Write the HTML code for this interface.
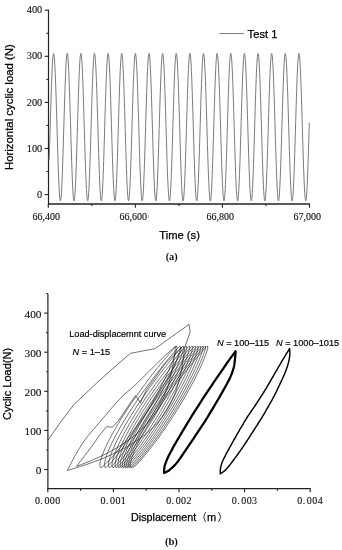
<!DOCTYPE html>
<html><head><meta charset="utf-8"><title>Cyclic load figure</title>
<style>html,body{margin:0;padding:0;background:#fff;}svg{display:block;}</style></head>
<body><svg width="342" height="550" viewBox="0 0 342 550">
<rect width="342" height="550" fill="#fff"/>
<line x1="48.5" y1="9.7" x2="48.5" y2="204.6" stroke="#222" stroke-width="1.2"/>
<line x1="48" y1="203.9" x2="310.05" y2="203.9" stroke="#222" stroke-width="1.5"/>
<line x1="44.6" y1="194.6" x2="48.5" y2="194.6" stroke="#222" stroke-width="1.1"/>
<text x="42.2" y="197.7" text-anchor="end" font-family="'Liberation Serif', 'Times New Roman', serif" font-size="10.3" fill="#111" stroke="#111" stroke-width="0.12">0</text>
<line x1="44.6" y1="148.5" x2="48.5" y2="148.5" stroke="#222" stroke-width="1.1"/>
<text x="42.2" y="151.6" text-anchor="end" font-family="'Liberation Serif', 'Times New Roman', serif" font-size="10.3" fill="#111" stroke="#111" stroke-width="0.12">100</text>
<line x1="44.6" y1="102.4" x2="48.5" y2="102.4" stroke="#222" stroke-width="1.1"/>
<text x="42.2" y="105.5" text-anchor="end" font-family="'Liberation Serif', 'Times New Roman', serif" font-size="10.3" fill="#111" stroke="#111" stroke-width="0.12">200</text>
<line x1="44.6" y1="56.3" x2="48.5" y2="56.3" stroke="#222" stroke-width="1.1"/>
<text x="42.2" y="59.4" text-anchor="end" font-family="'Liberation Serif', 'Times New Roman', serif" font-size="10.3" fill="#111" stroke="#111" stroke-width="0.12">300</text>
<line x1="44.6" y1="10.2" x2="48.5" y2="10.2" stroke="#222" stroke-width="1.1"/>
<text x="42.2" y="13.3" text-anchor="end" font-family="'Liberation Serif', 'Times New Roman', serif" font-size="10.3" fill="#111" stroke="#111" stroke-width="0.12">400</text>
<line x1="46.4" y1="171.55" x2="48.5" y2="171.55" stroke="#222" stroke-width="1.1"/>
<line x1="46.4" y1="125.45" x2="48.5" y2="125.45" stroke="#222" stroke-width="1.1"/>
<line x1="46.4" y1="79.35" x2="48.5" y2="79.35" stroke="#222" stroke-width="1.1"/>
<line x1="46.4" y1="33.25" x2="48.5" y2="33.25" stroke="#222" stroke-width="1.1"/>
<line x1="48.3" y1="203.9" x2="48.3" y2="207.8" stroke="#222" stroke-width="1.1"/>
<text x="46.2" y="220.2" text-anchor="middle" font-family="'Liberation Serif', 'Times New Roman', serif" font-size="10" fill="#111" stroke="#111" stroke-width="0.12">66,400</text>
<line x1="135.35" y1="203.9" x2="135.35" y2="207.8" stroke="#222" stroke-width="1.1"/>
<text x="133.25" y="220.2" text-anchor="middle" font-family="'Liberation Serif', 'Times New Roman', serif" font-size="10" fill="#111" stroke="#111" stroke-width="0.12">66,600</text>
<line x1="222.4" y1="203.9" x2="222.4" y2="207.8" stroke="#222" stroke-width="1.1"/>
<text x="220.3" y="220.2" text-anchor="middle" font-family="'Liberation Serif', 'Times New Roman', serif" font-size="10" fill="#111" stroke="#111" stroke-width="0.12">66,800</text>
<line x1="309.45" y1="203.9" x2="309.45" y2="207.8" stroke="#222" stroke-width="1.1"/>
<text x="307.35" y="220.2" text-anchor="middle" font-family="'Liberation Serif', 'Times New Roman', serif" font-size="10" fill="#111" stroke="#111" stroke-width="0.12">67,000</text>
<line x1="91.83" y1="203.9" x2="91.83" y2="205.9" stroke="#222" stroke-width="1.1"/>
<line x1="178.88" y1="203.9" x2="178.88" y2="205.9" stroke="#222" stroke-width="1.1"/>
<line x1="265.93" y1="203.9" x2="265.93" y2="205.9" stroke="#222" stroke-width="1.1"/>
<line x1="148.3" y1="214.8" x2="148.3" y2="217.8" stroke="#777" stroke-width="0.6"/>
<path d="M49.2 159.73 L49.45 151.9 L49.7 143.75 L49.95 135.38 L50.2 126.9 L50.45 118.42 L50.7 110.05 L50.95 101.92 L51.2 94.12 L51.45 86.75 L51.7 79.93 L51.95 73.72 L52.2 68.23 L52.45 63.52 L52.7 59.66 L52.95 56.69 L53.2 54.65 L53.45 53.58 L53.7 53.48 L53.95 54.36 L54.2 56.2 L54.45 58.99 L54.7 62.68 L54.95 67.23 L55.2 72.57 L55.45 78.63 L55.7 85.34 L55.95 92.6 L56.2 100.33 L56.45 108.4 L56.7 116.73 L56.95 125.2 L57.2 133.69 L57.45 142.09 L57.7 150.3 L57.95 158.19 L58.2 165.68 L58.45 172.66 L58.7 179.03 L58.95 184.71 L59.2 189.63 L59.45 193.72 L59.7 196.93 L59.95 199.21 L60.2 200.54 L60.45 200.89 L60.7 200.26 L60.95 198.67 L61.2 196.12 L61.45 192.66 L61.7 188.33 L61.95 183.19 L62.2 177.31 L62.45 170.76 L62.7 163.63 L62.95 156.02 L63.2 148.02 L63.45 139.75 L63.7 131.31 L63.95 122.82 L64.2 114.38 L64.45 106.11 L64.7 98.12 L64.95 90.52 L65.2 83.4 L65.45 76.87 L65.7 71 L65.95 65.87 L66.2 61.56 L66.45 58.12 L66.7 55.59 L66.95 54.01 L67.2 53.41 L67.45 53.78 L67.7 55.12 L67.95 57.43 L68.2 60.65 L68.45 64.76 L68.7 69.69 L68.95 75.39 L69.2 81.78 L69.45 88.76 L69.7 96.26 L69.95 104.17 L70.2 112.38 L70.45 120.78 L70.7 129.27 L70.95 137.74 L71.2 146.06 L71.45 154.13 L71.7 161.85 L71.95 169.1 L72.2 175.8 L72.45 181.85 L72.7 187.17 L72.95 191.7 L73.2 195.38 L73.45 198.14 L73.7 199.97 L73.95 200.83 L74.2 200.71 L74.45 199.62 L74.7 197.56 L74.95 194.57 L75.2 190.69 L75.45 185.96 L75.7 180.46 L75.95 174.24 L76.2 167.41 L76.45 160.03 L76.7 152.22 L76.95 144.08 L77.2 135.71 L77.45 127.23 L77.7 118.75 L77.95 110.38 L78.2 102.24 L78.45 94.42 L78.7 87.04 L78.95 80.19 L79.2 73.96 L79.45 68.44 L79.7 63.7 L79.95 59.79 L80.2 56.79 L80.45 54.71 L80.7 53.6 L80.95 53.46 L81.2 54.3 L81.45 56.11 L81.7 58.86 L81.95 62.52 L82.2 67.03 L82.45 72.34 L82.7 78.38 L82.95 85.06 L83.2 92.3 L83.45 100.01 L83.7 108.08 L83.95 116.39 L84.2 124.86 L84.45 133.35 L84.7 141.76 L84.95 149.97 L85.2 157.89 L85.45 165.39 L85.7 172.39 L85.95 178.79 L86.2 184.5 L86.45 189.45 L86.7 193.58 L86.95 196.82 L87.2 199.14 L87.45 200.5 L87.7 200.9 L87.95 200.31 L88.2 198.75 L88.45 196.24 L88.7 192.82 L88.95 188.52 L89.2 183.41 L89.45 177.56 L89.7 171.03 L89.95 163.93 L90.2 156.33 L90.45 148.35 L90.7 140.09 L90.95 131.65 L91.2 123.16 L91.45 114.72 L91.7 106.44 L91.95 98.44 L92.2 90.82 L92.45 83.68 L92.7 77.11 L92.95 71.22 L93.2 66.06 L93.45 61.71 L93.7 58.24 L93.95 55.67 L94.2 54.06 L94.45 53.41 L94.7 53.75 L94.95 55.05 L95.2 57.32 L95.45 60.5 L95.7 64.58 L95.95 69.48 L96.2 75.15 L96.45 81.51 L96.7 88.47 L96.95 95.95 L97.2 103.84 L97.45 112.04 L97.7 120.44 L97.95 128.93 L98.2 137.4 L98.45 145.73 L98.7 153.81 L98.95 161.54 L99.2 168.82 L99.45 175.54 L99.7 181.62 L99.95 186.97 L100.2 191.54 L100.45 195.25 L100.7 198.05 L100.95 199.91 L101.2 200.81 L101.45 200.74 L101.7 199.68 L101.95 197.66 L102.2 194.71 L102.45 190.86 L102.7 186.17 L102.95 180.69 L103.2 174.5 L103.45 167.69 L103.7 160.34 L103.95 152.54 L104.2 144.41 L104.45 136.05 L104.7 127.57 L104.95 119.09 L105.2 110.72 L105.45 102.56 L105.7 94.73 L105.95 87.32 L106.2 80.45 L106.45 74.2 L106.7 68.64 L106.95 63.87 L107.2 59.93 L107.45 56.89 L107.7 54.78 L107.95 53.63 L108.2 53.45 L108.45 54.25 L108.7 56.02 L108.95 58.73 L109.2 62.35 L109.45 66.83 L109.7 72.11 L109.95 78.12 L110.2 84.78 L110.45 92.01 L110.7 99.69 L110.95 107.75 L111.2 116.06 L111.45 124.52 L111.7 133.01 L111.95 141.42 L112.2 149.65 L112.45 157.58 L112.7 165.1 L112.95 172.12 L113.2 178.54 L113.45 184.28 L113.7 189.27 L113.95 193.43 L114.2 196.71 L114.45 199.06 L114.7 200.47 L114.95 200.9 L115.2 200.35 L115.45 198.83 L115.7 196.36 L115.95 192.97 L116.2 188.71 L116.45 183.63 L116.7 177.81 L116.95 171.31 L117.2 164.22 L117.45 156.64 L117.7 148.68 L117.95 140.42 L118.2 131.99 L118.45 123.5 L118.7 115.05 L118.95 106.77 L119.2 98.75 L119.45 91.11 L119.7 83.95 L119.95 77.37 L120.2 71.44 L120.45 66.25 L120.7 61.87 L120.95 58.36 L121.2 55.76 L121.45 54.1 L121.7 53.42 L121.95 53.71 L122.2 54.98 L122.45 57.21 L122.7 60.36 L122.95 64.4 L123.2 69.27 L123.45 74.91 L123.7 81.24 L123.95 88.19 L124.2 95.64 L124.45 103.52 L124.7 111.71 L124.95 120.11 L125.2 128.59 L125.45 137.06 L125.7 145.4 L125.95 153.5 L126.2 161.24 L126.45 168.54 L126.7 175.28 L126.95 181.39 L127.2 186.78 L127.45 191.37 L127.7 195.11 L127.95 197.96 L128.2 199.86 L128.45 200.8 L128.7 200.76 L128.95 199.74 L129.2 197.76 L129.45 194.85 L129.7 191.03 L129.95 186.37 L130.2 180.93 L130.45 174.77 L130.7 167.97 L130.95 160.64 L131.2 152.86 L131.45 144.74 L131.7 136.39 L131.95 127.91 L132.2 119.43 L132.45 111.05 L132.7 102.88 L132.95 95.03 L133.2 87.61 L133.45 80.71 L133.7 74.43 L133.95 68.85 L134.2 64.04 L134.45 60.07 L134.7 56.99 L134.95 54.84 L135.2 53.65 L135.45 53.44 L135.7 54.2 L135.95 55.93 L136.2 58.61 L136.45 62.19 L136.7 66.64 L136.95 71.89 L137.2 77.87 L137.45 84.51 L137.7 91.71 L137.95 99.38 L138.2 107.42 L138.45 115.72 L138.7 124.18 L138.95 132.67 L139.2 141.09 L139.45 149.32 L139.7 157.27 L139.95 164.81 L140.2 171.85 L140.45 178.3 L140.7 184.07 L140.95 189.08 L141.2 193.28 L141.45 196.59 L141.7 198.99 L141.95 200.43 L142.2 200.9 L142.45 200.39 L142.7 198.91 L142.95 196.48 L143.2 193.13 L143.45 188.9 L143.7 183.85 L143.95 178.05 L144.2 171.58 L144.45 164.51 L144.7 156.96 L144.95 149 L145.2 140.76 L145.45 132.33 L145.7 123.84 L145.95 115.39 L146.2 107.09 L146.45 99.06 L146.7 91.41 L146.95 84.23 L147.2 77.62 L147.45 71.66 L147.7 66.44 L147.95 62.03 L148.2 58.48 L148.45 55.84 L148.7 54.15 L148.95 53.43 L149.2 53.68 L149.45 54.91 L149.7 57.1 L149.95 60.22 L150.2 64.22 L150.45 69.06 L150.7 74.67 L150.95 80.98 L151.2 87.9 L151.45 95.34 L151.7 103.2 L151.95 111.38 L152.2 119.77 L152.45 128.25 L152.7 136.73 L152.95 145.07 L153.2 153.18 L153.45 160.94 L153.7 168.26 L153.95 175.02 L154.2 181.16 L154.45 186.57 L154.7 191.2 L154.95 194.98 L155.2 197.86 L155.45 199.8 L155.7 200.78 L155.95 200.78 L156.2 199.8 L156.45 197.86 L156.7 194.98 L156.95 191.2 L157.2 186.57 L157.45 181.16 L157.7 175.02 L157.95 168.26 L158.2 160.94 L158.45 153.18 L158.7 145.07 L158.95 136.73 L159.2 128.25 L159.45 119.77 L159.7 111.38 L159.95 103.2 L160.2 95.34 L160.45 87.9 L160.7 80.98 L160.95 74.67 L161.2 69.06 L161.45 64.22 L161.7 60.22 L161.95 57.1 L162.2 54.91 L162.45 53.68 L162.7 53.43 L162.95 54.15 L163.2 55.84 L163.45 58.48 L163.7 62.03 L163.95 66.44 L164.2 71.66 L164.45 77.62 L164.7 84.23 L164.95 91.41 L165.2 99.06 L165.45 107.09 L165.7 115.39 L165.95 123.84 L166.2 132.33 L166.45 140.76 L166.7 149 L166.95 156.96 L167.2 164.51 L167.45 171.58 L167.7 178.05 L167.95 183.85 L168.2 188.9 L168.45 193.13 L168.7 196.48 L168.95 198.91 L169.2 200.39 L169.45 200.9 L169.7 200.43 L169.95 198.99 L170.2 196.59 L170.45 193.28 L170.7 189.08 L170.95 184.07 L171.2 178.3 L171.45 171.85 L171.7 164.81 L171.95 157.27 L172.2 149.32 L172.45 141.09 L172.7 132.67 L172.95 124.18 L173.2 115.72 L173.45 107.42 L173.7 99.38 L173.95 91.71 L174.2 84.51 L174.45 77.87 L174.7 71.89 L174.95 66.64 L175.2 62.19 L175.45 58.61 L175.7 55.93 L175.95 54.2 L176.2 53.44 L176.45 53.65 L176.7 54.84 L176.95 56.99 L177.2 60.07 L177.45 64.04 L177.7 68.85 L177.95 74.43 L178.2 80.71 L178.45 87.61 L178.7 95.03 L178.95 102.88 L179.2 111.05 L179.45 119.43 L179.7 127.91 L179.95 136.39 L180.2 144.74 L180.45 152.86 L180.7 160.64 L180.95 167.97 L181.2 174.77 L181.45 180.93 L181.7 186.37 L181.95 191.03 L182.2 194.85 L182.45 197.76 L182.7 199.74 L182.95 200.76 L183.2 200.8 L183.45 199.86 L183.7 197.96 L183.95 195.11 L184.2 191.37 L184.45 186.78 L184.7 181.39 L184.95 175.28 L185.2 168.54 L185.45 161.24 L185.7 153.5 L185.95 145.4 L186.2 137.06 L186.45 128.59 L186.7 120.11 L186.95 111.71 L187.2 103.52 L187.45 95.64 L187.7 88.19 L187.95 81.24 L188.2 74.91 L188.45 69.27 L188.7 64.4 L188.95 60.36 L189.2 57.21 L189.45 54.98 L189.7 53.71 L189.95 53.42 L190.2 54.1 L190.45 55.76 L190.7 58.36 L190.95 61.87 L191.2 66.25 L191.45 71.44 L191.7 77.37 L191.95 83.95 L192.2 91.11 L192.45 98.75 L192.7 106.77 L192.95 115.05 L193.2 123.5 L193.45 131.99 L193.7 140.42 L193.95 148.68 L194.2 156.64 L194.45 164.22 L194.7 171.31 L194.95 177.81 L195.2 183.63 L195.45 188.71 L195.7 192.97 L195.95 196.36 L196.2 198.83 L196.45 200.35 L196.7 200.9 L196.95 200.47 L197.2 199.06 L197.45 196.71 L197.7 193.43 L197.95 189.27 L198.2 184.28 L198.45 178.54 L198.7 172.12 L198.95 165.1 L199.2 157.58 L199.45 149.65 L199.7 141.42 L199.95 133.01 L200.2 124.52 L200.45 116.06 L200.7 107.75 L200.95 99.69 L201.2 92.01 L201.45 84.78 L201.7 78.12 L201.95 72.11 L202.2 66.83 L202.45 62.35 L202.7 58.73 L202.95 56.02 L203.2 54.25 L203.45 53.45 L203.7 53.63 L203.95 54.78 L204.2 56.89 L204.45 59.93 L204.7 63.87 L204.95 68.64 L205.2 74.2 L205.45 80.45 L205.7 87.32 L205.95 94.73 L206.2 102.56 L206.45 110.72 L206.7 119.09 L206.95 127.57 L207.2 136.05 L207.45 144.41 L207.7 152.54 L207.95 160.34 L208.2 167.69 L208.45 174.5 L208.7 180.69 L208.95 186.17 L209.2 190.86 L209.45 194.71 L209.7 197.66 L209.95 199.68 L210.2 200.74 L210.45 200.81 L210.7 199.91 L210.95 198.05 L211.2 195.25 L211.45 191.54 L211.7 186.97 L211.95 181.62 L212.2 175.54 L212.45 168.82 L212.7 161.54 L212.95 153.81 L213.2 145.73 L213.45 137.4 L213.7 128.93 L213.95 120.44 L214.2 112.04 L214.45 103.84 L214.7 95.95 L214.95 88.47 L215.2 81.51 L215.45 75.15 L215.7 69.48 L215.95 64.58 L216.2 60.5 L216.45 57.32 L216.7 55.05 L216.95 53.75 L217.2 53.41 L217.45 54.06 L217.7 55.67 L217.95 58.24 L218.2 61.71 L218.45 66.06 L218.7 71.22 L218.95 77.11 L219.2 83.68 L219.45 90.82 L219.7 98.44 L219.95 106.44 L220.2 114.72 L220.45 123.16 L220.7 131.65 L220.95 140.09 L221.2 148.35 L221.45 156.33 L221.7 163.93 L221.95 171.03 L222.2 177.56 L222.45 183.41 L222.7 188.52 L222.95 192.82 L223.2 196.24 L223.45 198.75 L223.7 200.31 L223.95 200.9 L224.2 200.5 L224.45 199.14 L224.7 196.82 L224.95 193.58 L225.2 189.45 L225.45 184.5 L225.7 178.79 L225.95 172.39 L226.2 165.39 L226.45 157.89 L226.7 149.97 L226.95 141.76 L227.2 133.35 L227.45 124.86 L227.7 116.39 L227.95 108.08 L228.2 100.01 L228.45 92.3 L228.7 85.06 L228.95 78.38 L229.2 72.34 L229.45 67.03 L229.7 62.52 L229.95 58.86 L230.2 56.11 L230.45 54.3 L230.7 53.46 L230.95 53.6 L231.2 54.71 L231.45 56.79 L231.7 59.79 L231.95 63.7 L232.2 68.44 L232.45 73.96 L232.7 80.19 L232.95 87.04 L233.2 94.42 L233.45 102.24 L233.7 110.38 L233.95 118.75 L234.2 127.23 L234.45 135.71 L234.7 144.08 L234.95 152.22 L235.2 160.03 L235.45 167.41 L235.7 174.24 L235.95 180.46 L236.2 185.96 L236.45 190.69 L236.7 194.57 L236.95 197.56 L237.2 199.62 L237.45 200.71 L237.7 200.83 L237.95 199.97 L238.2 198.14 L238.45 195.38 L238.7 191.7 L238.95 187.17 L239.2 181.85 L239.45 175.8 L239.7 169.1 L239.95 161.85 L240.2 154.13 L240.45 146.06 L240.7 137.74 L240.95 129.27 L241.2 120.78 L241.45 112.38 L241.7 104.17 L241.95 96.26 L242.2 88.76 L242.45 81.78 L242.7 75.39 L242.95 69.69 L243.2 64.76 L243.45 60.65 L243.7 57.43 L243.95 55.12 L244.2 53.78 L244.45 53.41 L244.7 54.01 L244.95 55.59 L245.2 58.12 L245.45 61.56 L245.7 65.87 L245.95 71 L246.2 76.87 L246.45 83.4 L246.7 90.52 L246.95 98.12 L247.2 106.11 L247.45 114.38 L247.7 122.82 L247.95 131.31 L248.2 139.75 L248.45 148.02 L248.7 156.02 L248.95 163.63 L249.2 170.76 L249.45 177.31 L249.7 183.19 L249.95 188.33 L250.2 192.66 L250.45 196.12 L250.7 198.67 L250.95 200.26 L251.2 200.89 L251.45 200.54 L251.7 199.21 L251.95 196.93 L252.2 193.72 L252.45 189.63 L252.7 184.71 L252.95 179.03 L253.2 172.66 L253.45 165.68 L253.7 158.19 L253.95 150.3 L254.2 142.09 L254.45 133.69 L254.7 125.2 L254.95 116.73 L255.2 108.4 L255.45 100.33 L255.7 92.6 L255.95 85.34 L256.2 78.63 L256.45 72.57 L256.7 67.23 L256.95 62.68 L257.2 58.99 L257.45 56.2 L257.7 54.36 L257.95 53.48 L258.2 53.58 L258.45 54.65 L258.7 56.69 L258.95 59.66 L259.2 63.52 L259.45 68.23 L259.7 73.72 L259.95 79.93 L260.2 86.75 L260.45 94.12 L260.7 101.92 L260.95 110.05 L261.2 118.42 L261.45 126.9 L261.7 135.38 L261.95 143.75 L262.2 151.9 L262.45 159.73 L262.7 167.12 L262.95 173.98 L263.2 180.22 L263.45 185.76 L263.7 190.52 L263.95 194.44 L264.2 197.46 L264.45 199.55 L264.7 200.69 L264.95 200.84 L265.2 200.02 L265.45 198.23 L265.7 195.5 L265.95 191.87 L266.2 187.37 L266.45 182.07 L266.7 176.05 L266.95 169.38 L267.2 162.14 L267.45 154.45 L267.7 146.39 L267.95 138.07 L268.2 129.61 L268.45 121.12 L268.7 112.71 L268.95 104.49 L269.2 96.57 L269.45 89.06 L269.7 82.05 L269.95 75.64 L270.2 69.91 L270.45 64.94 L270.7 60.8 L270.95 57.54 L271.2 55.2 L271.45 53.81 L271.7 53.4 L271.95 53.97 L272.2 55.51 L272.45 58 L272.7 61.4 L272.95 65.68 L273.2 70.78 L273.45 76.62 L273.7 83.13 L273.95 90.23 L274.2 97.81 L274.45 105.79 L274.7 114.05 L274.95 122.48 L275.2 130.97 L275.45 139.42 L275.7 147.7 L275.95 155.71 L276.2 163.34 L276.45 170.49 L276.7 177.06 L276.95 182.97 L277.2 188.14 L277.45 192.51 L277.7 196 L277.95 198.58 L278.2 200.22 L278.45 200.88 L278.7 200.57 L278.95 199.28 L279.2 197.04 L279.45 193.87 L279.7 189.81 L279.95 184.92 L280.2 179.27 L280.45 172.92 L280.7 165.97 L280.95 158.5 L281.2 150.62 L281.45 142.42 L281.7 134.02 L281.95 125.54 L282.2 117.07 L282.45 108.73 L282.7 100.64 L282.95 92.91 L283.2 85.62 L283.45 78.89 L283.7 72.8 L283.95 67.43 L284.2 62.85 L284.45 59.12 L284.7 56.3 L284.95 54.41 L285.2 53.49 L285.45 53.55 L285.7 54.59 L285.95 56.59 L286.2 59.52 L286.45 63.35 L286.7 68.03 L286.95 73.49 L287.2 79.66 L287.45 86.47 L287.7 93.81 L287.95 101.6 L288.2 109.72 L288.45 118.08 L288.7 126.56 L288.95 135.04 L289.2 143.42 L289.45 151.58 L289.7 159.42 L289.95 166.83 L290.2 173.72 L290.45 179.99 L290.7 185.55 L290.95 190.34 L291.2 194.3 L291.45 197.36 L291.7 199.49 L291.95 200.66 L292.2 200.86 L292.45 200.07 L292.7 198.32 L292.95 195.63 L293.2 192.03 L293.45 187.57 L293.7 182.3 L293.95 176.3 L294.2 169.66 L294.45 162.44 L294.7 154.76 L294.95 146.72 L295.2 138.41 L295.45 129.95 L295.7 121.46 L295.95 113.04 L296.2 104.81 L296.45 96.88 L296.7 89.35 L296.95 82.32 L297.2 75.88 L297.45 70.12 L297.7 65.12 L297.95 60.95 L298.2 57.65 L298.45 55.27 L298.7 53.85 L298.95 53.4 L299.2 53.93 L299.45 55.43 L299.7 57.88 L299.95 61.25 L300.2 65.49 L300.45 70.56 L300.7 76.37 L300.95 82.86 L301.2 89.93 L301.45 97.5 L301.7 105.46 L301.95 113.71 L302.2 122.14 L302.45 130.63 L302.7 139.08 L302.95 147.37 L303.2 155.39 L303.45 163.04 L303.7 170.21 L303.95 176.81 L304.2 182.75 L304.45 187.95 L304.7 192.35 L304.95 195.88 L305.2 198.5 L305.45 200.17 L305.7 200.88 L305.95 200.6 L306.2 199.35 L306.45 197.15 L306.7 194.01 L306.95 189.99 L307.2 185.13 L307.45 179.51 L307.7 173.19 L307.95 166.26 L308.2 158.81 L308.45 150.94 L308.7 142.75 L308.95 134.36 L309.2 125.88 L309.3 122.48" fill="none" stroke="#7a7a7a" stroke-width="1.0"/>
<line x1="219.4" y1="33.6" x2="243.9" y2="33.6" stroke="#7a7a7a" stroke-width="1"/>
<text x="247.6" y="38" font-family="'Liberation Sans', Arial, sans-serif" font-size="11.2" fill="#000" stroke="#000" stroke-width="0.25">Test 1</text>
<text transform="translate(13.1 107.1) rotate(-90)" text-anchor="middle" font-family="'Liberation Sans', Arial, sans-serif" font-size="11.4" fill="#000" stroke="#000" stroke-width="0.25">Horizontal cyclic load (N)</text>
<text x="179.6" y="238.8" text-anchor="middle" font-family="'Liberation Sans', Arial, sans-serif" font-size="11.2" fill="#000" stroke="#000" stroke-width="0.25">Time (s)</text>
<text x="171.6" y="259.6" text-anchor="middle" font-family="'Liberation Serif', 'Times New Roman', serif" font-size="10.2" font-weight="bold" fill="#111">(a)</text>
<line x1="47.9" y1="293.4" x2="47.9" y2="489.2" stroke="#222" stroke-width="1.2"/>
<line x1="47.4" y1="488.6" x2="310.7" y2="488.6" stroke="#222" stroke-width="1.3"/>
<line x1="44.2" y1="469.5" x2="47.9" y2="469.5" stroke="#222" stroke-width="1.1"/>
<text x="41.5" y="474.2" text-anchor="end" font-family="'Liberation Serif', 'Times New Roman', serif" font-size="11.3" fill="#111" stroke="#111" stroke-width="0.12">0</text>
<line x1="44.2" y1="430.4" x2="47.9" y2="430.4" stroke="#222" stroke-width="1.1"/>
<text x="41.5" y="435.1" text-anchor="end" font-family="'Liberation Serif', 'Times New Roman', serif" font-size="11.3" fill="#111" stroke="#111" stroke-width="0.12">100</text>
<line x1="44.2" y1="391.3" x2="47.9" y2="391.3" stroke="#222" stroke-width="1.1"/>
<text x="41.5" y="396" text-anchor="end" font-family="'Liberation Serif', 'Times New Roman', serif" font-size="11.3" fill="#111" stroke="#111" stroke-width="0.12">200</text>
<line x1="44.2" y1="352.2" x2="47.9" y2="352.2" stroke="#222" stroke-width="1.1"/>
<text x="41.5" y="356.9" text-anchor="end" font-family="'Liberation Serif', 'Times New Roman', serif" font-size="11.3" fill="#111" stroke="#111" stroke-width="0.12">300</text>
<line x1="44.2" y1="313.1" x2="47.9" y2="313.1" stroke="#222" stroke-width="1.1"/>
<text x="41.5" y="317.8" text-anchor="end" font-family="'Liberation Serif', 'Times New Roman', serif" font-size="11.3" fill="#111" stroke="#111" stroke-width="0.12">400</text>
<line x1="46.2" y1="449.95" x2="47.9" y2="449.95" stroke="#222" stroke-width="1.1"/>
<line x1="46.2" y1="410.85" x2="47.9" y2="410.85" stroke="#222" stroke-width="1.1"/>
<line x1="46.2" y1="371.75" x2="47.9" y2="371.75" stroke="#222" stroke-width="1.1"/>
<line x1="46.2" y1="332.65" x2="47.9" y2="332.65" stroke="#222" stroke-width="1.1"/>
<line x1="46.2" y1="293.55" x2="47.9" y2="293.55" stroke="#222" stroke-width="1.1"/>
<line x1="47.8" y1="488.6" x2="47.8" y2="492.2" stroke="#222" stroke-width="1.1"/>
<text x="47.8" y="503.5" text-anchor="middle" font-family="'Liberation Serif', 'Times New Roman', serif" font-size="10" letter-spacing="0.4" fill="#111" stroke="#111" stroke-width="0.12">0.<tspan dx="1.2">000</tspan></text>
<line x1="113.4" y1="488.6" x2="113.4" y2="492.2" stroke="#222" stroke-width="1.1"/>
<text x="113.4" y="503.5" text-anchor="middle" font-family="'Liberation Serif', 'Times New Roman', serif" font-size="10" letter-spacing="0.4" fill="#111" stroke="#111" stroke-width="0.12">0.<tspan dx="1.2">001</tspan></text>
<line x1="179" y1="488.6" x2="179" y2="492.2" stroke="#222" stroke-width="1.1"/>
<text x="179" y="503.5" text-anchor="middle" font-family="'Liberation Serif', 'Times New Roman', serif" font-size="10" letter-spacing="0.4" fill="#111" stroke="#111" stroke-width="0.12">0.<tspan dx="1.2">002</tspan></text>
<line x1="244.6" y1="488.6" x2="244.6" y2="492.2" stroke="#222" stroke-width="1.1"/>
<text x="244.6" y="503.5" text-anchor="middle" font-family="'Liberation Serif', 'Times New Roman', serif" font-size="10" letter-spacing="0.4" fill="#111" stroke="#111" stroke-width="0.12">0.<tspan dx="1.2">003</tspan></text>
<line x1="310.2" y1="488.6" x2="310.2" y2="492.2" stroke="#222" stroke-width="1.1"/>
<text x="310.2" y="503.5" text-anchor="middle" font-family="'Liberation Serif', 'Times New Roman', serif" font-size="10" letter-spacing="0.4" fill="#111" stroke="#111" stroke-width="0.12">0.<tspan dx="1.2">004</tspan></text>
<line x1="80.6" y1="488.6" x2="80.6" y2="490.7" stroke="#222" stroke-width="1.1"/>
<line x1="146.2" y1="488.6" x2="146.2" y2="490.7" stroke="#222" stroke-width="1.1"/>
<line x1="211.8" y1="488.6" x2="211.8" y2="490.7" stroke="#222" stroke-width="1.1"/>
<line x1="277.4" y1="488.6" x2="277.4" y2="490.7" stroke="#222" stroke-width="1.1"/>
<text transform="translate(11.3 384) rotate(-90)" text-anchor="middle" font-family="'Liberation Sans', Arial, sans-serif" font-size="11" fill="#000" stroke="#000" stroke-width="0.25">Cyclic Load(N)</text>
<text x="131" y="521" font-family="'Liberation Sans', Arial, sans-serif" font-size="10.75" fill="#000" stroke="#000" stroke-width="0.25">Displacement<tspan font-family="'Noto Sans CJK SC', sans-serif" font-size="10.5" stroke-width="0">（</tspan><tspan dx="0.3" font-size="11">m</tspan><tspan dx="1.5" font-family="'Noto Sans CJK SC', sans-serif" font-size="10.5" stroke-width="0">）</tspan></text>
<text x="171.4" y="544.6" text-anchor="middle" font-family="'Liberation Serif', 'Times New Roman', serif" font-size="10.6" font-weight="bold" fill="#111">(b)</text>
<text x="69.3" y="336.7" font-family="'Liberation Sans', Arial, sans-serif" font-size="9.15" fill="#000" stroke="#000" stroke-width="0.18">Load-displacemnt curve</text>
<text x="72.6" y="354.6" font-family="'Liberation Sans', Arial, sans-serif" font-size="9.2" fill="#000" stroke="#000" stroke-width="0.18"><tspan font-style="italic">N</tspan> = 1–15</text>
<text x="217" y="345.8" font-family="'Liberation Sans', Arial, sans-serif" font-size="9.2" fill="#000" stroke="#000" stroke-width="0.18"><tspan font-style="italic">N</tspan> = 100–115</text>
<text x="276" y="345.7" font-family="'Liberation Sans', Arial, sans-serif" font-size="9.2" fill="#000" stroke="#000" stroke-width="0.18"><tspan font-style="italic">N</tspan> = 1000–1015</text>
<path d="M48 440.2 L61 421.5 L74 404.5 L99 380.8 L120 362.3 L130.5 353.3 L155.1 348.6 L189 324.4 L190.2 332 L184.6 347.7" fill="none" stroke="#111" stroke-width="0.6" stroke-linejoin="round"/>
<path d="M100.9 467.8 L99.83 465.78 L99.94 463.75 L100.31 461.73 L100.83 459.71 L101.44 457.68 L102.14 455.66 L102.9 453.64 L103.71 451.61 L104.57 449.59 L105.47 447.57 L106.4 445.54 L107.37 443.52 L108.37 441.5 L109.4 439.47 L110.45 437.45 L111.53 435.43 L112.64 433.4 L113.76 431.38 L114.91 429.36 L116.08 427.33 L117.27 425.31 L118.47 423.29 L119.7 421.26 L120.94 419.24 L122.2 417.22 L123.48 415.19 L124.77 413.17 L126.08 411.15 L127.41 409.12 L128.75 407.1 L130.1 405.08 L131.47 403.05 L132.86 401.03 L134.26 399.01 L135.68 396.98 L137.11 394.96 L138.55 392.94 L140.01 390.91 L141.48 388.89 L142.96 386.87 L144.46 384.84 L145.97 382.82 L147.5 380.8 L149.04 378.77 L150.59 376.75 L152.16 374.73 L153.74 372.7 L155.34 370.68 L156.95 368.66 L158.58 366.63 L160.22 364.61 L161.88 362.59 L163.55 360.56 L165.25 358.54 L166.96 356.52 L168.69 354.49 L170.45 352.47 L172.24 350.45 L174.07 348.42 L176 346.4 L177 346.4 L176.87 348.42 L176.38 350.45 L175.79 352.47 L175.13 354.49 L174.42 356.52 L173.67 358.54 L172.89 360.56 L172.09 362.59 L171.25 364.61 L170.39 366.63 L169.51 368.66 L168.62 370.68 L167.7 372.7 L166.76 374.73 L165.81 376.75 L164.84 378.77 L163.85 380.8 L162.85 382.82 L161.83 384.84 L160.8 386.87 L159.75 388.89 L158.69 390.91 L157.61 392.94 L156.52 394.96 L155.42 396.98 L154.3 399.01 L153.17 401.03 L152.02 403.05 L150.87 405.08 L149.69 407.1 L148.51 409.12 L147.31 411.15 L146.09 413.17 L144.87 415.19 L143.62 417.22 L142.37 419.24 L141.1 421.26 L139.81 423.29 L138.52 425.31 L137.2 427.33 L135.87 429.36 L134.52 431.38 L133.16 433.4 L131.78 435.43 L130.39 437.45 L128.97 439.47 L127.54 441.5 L126.08 443.52 L124.61 445.54 L123.11 447.57 L121.58 449.59 L120.03 451.61 L118.45 453.64 L116.84 455.66 L115.18 457.68 L113.48 459.71 L111.72 461.73 L109.88 463.75 L107.9 465.78 L105.4 467.8" fill="none" stroke="#111" stroke-width="0.6" stroke-linejoin="round"/>
<path d="M105.4 467.8 L104.32 465.78 L104.41 463.75 L104.76 461.73 L105.25 459.71 L105.85 457.68 L106.53 455.66 L107.27 453.64 L108.06 451.61 L108.9 449.59 L109.79 447.57 L110.7 445.54 L111.65 443.52 L112.63 441.5 L113.64 439.47 L114.68 437.45 L115.74 435.43 L116.83 433.4 L117.93 431.38 L119.06 429.36 L120.21 427.33 L121.38 425.31 L122.57 423.29 L123.78 421.26 L125 419.24 L126.24 417.22 L127.5 415.19 L128.78 413.17 L130.07 411.15 L131.37 409.12 L132.7 407.1 L134.04 405.08 L135.39 403.05 L136.76 401.03 L138.14 399.01 L139.53 396.98 L140.95 394.96 L142.37 392.94 L143.81 390.91 L145.26 388.89 L146.73 386.87 L148.21 384.84 L149.7 382.82 L151.21 380.8 L152.73 378.77 L154.27 376.75 L155.82 374.73 L157.38 372.7 L158.96 370.68 L160.55 368.66 L162.16 366.63 L163.79 364.61 L165.43 362.59 L167.08 360.56 L168.76 358.54 L170.45 356.52 L172.17 354.49 L173.9 352.47 L175.67 350.45 L177.48 348.42 L179.4 346.4 L180.4 346.4 L180.28 348.42 L179.8 350.45 L179.22 352.47 L178.57 354.49 L177.88 356.52 L177.14 358.54 L176.37 360.56 L175.58 362.59 L174.76 364.61 L173.91 366.63 L173.04 368.66 L172.16 370.68 L171.25 372.7 L170.32 374.73 L169.38 376.75 L168.42 378.77 L167.45 380.8 L166.46 382.82 L165.45 384.84 L164.43 386.87 L163.39 388.89 L162.34 390.91 L161.28 392.94 L160.2 394.96 L159.11 396.98 L158 399.01 L156.88 401.03 L155.75 403.05 L154.6 405.08 L153.44 407.1 L152.27 409.12 L151.08 411.15 L149.88 413.17 L148.66 415.19 L147.43 417.22 L146.19 419.24 L144.93 421.26 L143.66 423.29 L142.37 425.31 L141.07 427.33 L139.75 429.36 L138.41 431.38 L137.06 433.4 L135.7 435.43 L134.31 437.45 L132.91 439.47 L131.48 441.5 L130.04 443.52 L128.58 445.54 L127.09 447.57 L125.58 449.59 L124.04 451.61 L122.47 453.64 L120.87 455.66 L119.23 457.68 L117.54 459.71 L115.79 461.73 L113.96 463.75 L111.99 465.78 L109.5 467.8" fill="none" stroke="#111" stroke-width="0.6" stroke-linejoin="round"/>
<path d="M109.5 467.8 L108.4 465.78 L108.48 463.75 L108.81 461.73 L109.29 459.71 L109.88 457.68 L110.54 455.66 L111.27 453.64 L112.04 451.61 L112.87 449.59 L113.74 447.57 L114.64 445.54 L115.57 443.52 L116.54 441.5 L117.53 439.47 L118.55 437.45 L119.6 435.43 L120.67 433.4 L121.76 431.38 L122.88 429.36 L124.01 427.33 L125.17 425.31 L126.34 423.29 L127.53 421.26 L128.74 419.24 L129.97 417.22 L131.21 415.19 L132.47 413.17 L133.75 411.15 L135.04 409.12 L136.35 407.1 L137.67 405.08 L139.01 403.05 L140.36 401.03 L141.73 399.01 L143.11 396.98 L144.51 394.96 L145.92 392.94 L147.34 390.91 L148.78 388.89 L150.23 386.87 L151.69 384.84 L153.17 382.82 L154.67 380.8 L156.17 378.77 L157.69 376.75 L159.23 374.73 L160.78 372.7 L162.34 370.68 L163.92 368.66 L165.51 366.63 L167.12 364.61 L168.75 362.59 L170.39 360.56 L172.05 358.54 L173.73 356.52 L175.43 354.49 L177.15 352.47 L178.9 350.45 L180.7 348.42 L182.6 346.4 L183.6 346.4 L183.49 348.42 L183.02 350.45 L182.44 352.47 L181.8 354.49 L181.11 356.52 L180.38 358.54 L179.62 360.56 L178.83 362.59 L178.02 364.61 L177.18 366.63 L176.32 368.66 L175.44 370.68 L174.54 372.7 L173.62 374.73 L172.68 376.75 L171.73 378.77 L170.76 380.8 L169.78 382.82 L168.78 384.84 L167.76 386.87 L166.73 388.89 L165.69 390.91 L164.63 392.94 L163.56 394.96 L162.48 396.98 L161.38 399.01 L160.26 401.03 L159.14 403.05 L158 405.08 L156.84 407.1 L155.67 409.12 L154.49 411.15 L153.3 413.17 L152.09 415.19 L150.87 417.22 L149.63 419.24 L148.38 421.26 L147.11 423.29 L145.83 425.31 L144.53 427.33 L143.22 429.36 L141.89 431.38 L140.55 433.4 L139.19 435.43 L137.81 437.45 L136.41 439.47 L135 441.5 L133.56 443.52 L132.1 445.54 L130.62 447.57 L129.12 449.59 L127.59 451.61 L126.02 453.64 L124.43 455.66 L122.79 457.68 L121.11 459.71 L119.37 461.73 L117.54 463.75 L115.58 465.78 L113.1 467.8" fill="none" stroke="#111" stroke-width="0.6" stroke-linejoin="round"/>
<path d="M113.1 467.8 L111.99 465.78 L112.06 463.75 L112.39 461.73 L112.86 459.71 L113.44 457.68 L114.09 455.66 L114.81 453.64 L115.58 451.61 L116.39 449.59 L117.25 447.57 L118.15 445.54 L119.07 443.52 L120.03 441.5 L121.02 439.47 L122.03 437.45 L123.07 435.43 L124.13 433.4 L125.21 431.38 L126.32 429.36 L127.44 427.33 L128.59 425.31 L129.76 423.29 L130.94 421.26 L132.14 419.24 L133.36 417.22 L134.59 415.19 L135.85 413.17 L137.11 411.15 L138.4 409.12 L139.7 407.1 L141.01 405.08 L142.34 403.05 L143.69 401.03 L145.04 399.01 L146.42 396.98 L147.81 394.96 L149.21 392.94 L150.62 390.91 L152.05 388.89 L153.49 386.87 L154.95 384.84 L156.42 382.82 L157.91 380.8 L159.41 378.77 L160.92 376.75 L162.45 374.73 L163.99 372.7 L165.54 370.68 L167.11 368.66 L168.7 366.63 L170.3 364.61 L171.91 362.59 L173.55 360.56 L175.2 358.54 L176.87 356.52 L178.56 354.49 L180.27 352.47 L182.02 350.45 L183.81 348.42 L185.7 346.4 L186.7 346.4 L186.59 348.42 L186.12 350.45 L185.54 352.47 L184.9 354.49 L184.21 356.52 L183.48 358.54 L182.72 360.56 L181.93 362.59 L181.12 364.61 L180.28 366.63 L179.42 368.66 L178.54 370.68 L177.64 372.7 L176.72 374.73 L175.78 376.75 L174.83 378.77 L173.86 380.8 L172.88 382.82 L171.88 384.84 L170.86 386.87 L169.83 388.89 L168.79 390.91 L167.73 392.94 L166.66 394.96 L165.58 396.98 L164.48 399.01 L163.36 401.03 L162.24 403.05 L161.1 405.08 L159.94 407.1 L158.77 409.12 L157.59 411.15 L156.4 413.17 L155.19 415.19 L153.97 417.22 L152.73 419.24 L151.48 421.26 L150.21 423.29 L148.93 425.31 L147.63 427.33 L146.32 429.36 L144.99 431.38 L143.65 433.4 L142.29 435.43 L140.91 437.45 L139.51 439.47 L138.1 441.5 L136.66 443.52 L135.2 445.54 L133.72 447.57 L132.22 449.59 L130.69 451.61 L129.12 453.64 L127.53 455.66 L125.89 457.68 L124.21 459.71 L122.47 461.73 L120.64 463.75 L118.68 465.78 L116.2 467.8" fill="none" stroke="#111" stroke-width="0.6" stroke-linejoin="round"/>
<path d="M116.2 467.8 L115.09 465.78 L115.16 463.75 L115.48 461.73 L115.95 459.71 L116.53 457.68 L117.18 455.66 L117.9 453.64 L118.66 451.61 L119.48 449.59 L120.34 447.57 L121.23 445.54 L122.15 443.52 L123.11 441.5 L124.09 439.47 L125.1 437.45 L126.14 435.43 L127.2 433.4 L128.28 431.38 L129.39 429.36 L130.51 427.33 L131.66 425.31 L132.82 423.29 L134 421.26 L135.2 419.24 L136.42 417.22 L137.65 415.19 L138.9 413.17 L140.17 411.15 L141.45 409.12 L142.75 407.1 L144.06 405.08 L145.39 403.05 L146.73 401.03 L148.09 399.01 L149.46 396.98 L150.85 394.96 L152.25 392.94 L153.66 390.91 L155.09 388.89 L156.53 386.87 L157.98 384.84 L159.45 382.82 L160.94 380.8 L162.43 378.77 L163.94 376.75 L165.47 374.73 L167.01 372.7 L168.56 370.68 L170.13 368.66 L171.71 366.63 L173.31 364.61 L174.93 362.59 L176.56 360.56 L178.21 358.54 L179.88 356.52 L181.57 354.49 L183.28 352.47 L185.02 350.45 L186.81 348.42 L188.7 346.4 L189.7 346.4 L189.58 348.42 L189.11 350.45 L188.53 352.47 L187.88 354.49 L187.19 356.52 L186.45 358.54 L185.69 360.56 L184.89 362.59 L184.07 364.61 L183.23 366.63 L182.36 368.66 L181.48 370.68 L180.57 372.7 L179.65 374.73 L178.71 376.75 L177.75 378.77 L176.78 380.8 L175.79 382.82 L174.78 384.84 L173.76 386.87 L172.73 388.89 L171.68 390.91 L170.62 392.94 L169.54 394.96 L168.45 396.98 L167.35 399.01 L166.23 401.03 L165.1 403.05 L163.95 405.08 L162.79 407.1 L161.62 409.12 L160.43 411.15 L159.23 413.17 L158.02 415.19 L156.79 417.22 L155.55 419.24 L154.29 421.26 L153.02 423.29 L151.74 425.31 L150.43 427.33 L149.12 429.36 L147.78 431.38 L146.44 433.4 L145.07 435.43 L143.69 437.45 L142.28 439.47 L140.86 441.5 L139.42 443.52 L137.96 445.54 L136.47 447.57 L134.96 449.59 L133.43 451.61 L131.86 453.64 L130.26 455.66 L128.62 457.68 L126.93 459.71 L125.18 461.73 L123.35 463.75 L121.38 465.78 L118.9 467.8" fill="none" stroke="#111" stroke-width="0.6" stroke-linejoin="round"/>
<path d="M118.9 467.8 L117.79 465.78 L117.86 463.75 L118.19 461.73 L118.67 459.71 L119.24 457.68 L119.9 455.66 L120.62 453.64 L121.39 451.61 L122.21 449.59 L123.07 447.57 L123.96 445.54 L124.89 443.52 L125.85 441.5 L126.84 439.47 L127.85 437.45 L128.89 435.43 L129.96 433.4 L131.04 431.38 L132.15 429.36 L133.28 427.33 L134.43 425.31 L135.59 423.29 L136.78 421.26 L137.98 419.24 L139.2 417.22 L140.44 415.19 L141.69 413.17 L142.96 411.15 L144.25 409.12 L145.55 407.1 L146.86 405.08 L148.19 403.05 L149.54 401.03 L150.9 399.01 L152.28 396.98 L153.67 394.96 L155.07 392.94 L156.49 390.91 L157.92 388.89 L159.36 386.87 L160.82 384.84 L162.29 382.82 L163.78 380.8 L165.28 378.77 L166.79 376.75 L168.32 374.73 L169.86 372.7 L171.42 370.68 L172.99 368.66 L174.58 366.63 L176.18 364.61 L177.8 362.59 L179.43 360.56 L181.09 358.54 L182.76 356.52 L184.45 354.49 L186.17 352.47 L187.92 350.45 L189.71 348.42 L191.6 346.4 L192.6 346.4 L192.48 348.42 L191.99 350.45 L191.4 352.47 L190.75 354.49 L190.04 356.52 L189.3 358.54 L188.53 360.56 L187.73 362.59 L186.9 364.61 L186.04 366.63 L185.17 368.66 L184.28 370.68 L183.36 372.7 L182.43 374.73 L181.48 376.75 L180.52 378.77 L179.53 380.8 L178.54 382.82 L177.52 384.84 L176.5 386.87 L175.45 388.89 L174.4 390.91 L173.33 392.94 L172.24 394.96 L171.14 396.98 L170.03 399.01 L168.9 401.03 L167.76 403.05 L166.61 405.08 L165.44 407.1 L164.26 409.12 L163.07 411.15 L161.86 413.17 L160.64 415.19 L159.4 417.22 L158.15 419.24 L156.88 421.26 L155.6 423.29 L154.31 425.31 L153 427.33 L151.68 429.36 L150.33 431.38 L148.98 433.4 L147.6 435.43 L146.21 437.45 L144.8 439.47 L143.37 441.5 L141.92 443.52 L140.45 445.54 L138.96 447.57 L137.44 449.59 L135.89 451.61 L134.32 453.64 L132.71 455.66 L131.06 457.68 L129.36 459.71 L127.61 461.73 L125.77 463.75 L123.79 465.78 L121.3 467.8" fill="none" stroke="#111" stroke-width="0.6" stroke-linejoin="round"/>
<path d="M121.3 467.8 L120.2 465.78 L120.28 463.75 L120.61 461.73 L121.09 459.71 L121.68 457.68 L122.34 455.66 L123.07 453.64 L123.84 451.61 L124.67 449.59 L125.54 447.57 L126.44 445.54 L127.37 443.52 L128.34 441.5 L129.33 439.47 L130.35 437.45 L131.4 435.43 L132.47 433.4 L133.56 431.38 L134.68 429.36 L135.81 427.33 L136.97 425.31 L138.14 423.29 L139.33 421.26 L140.54 419.24 L141.77 417.22 L143.01 415.19 L144.27 413.17 L145.55 411.15 L146.84 409.12 L148.15 407.1 L149.47 405.08 L150.81 403.05 L152.16 401.03 L153.53 399.01 L154.91 396.98 L156.31 394.96 L157.72 392.94 L159.14 390.91 L160.58 388.89 L162.03 386.87 L163.49 384.84 L164.97 382.82 L166.47 380.8 L167.97 378.77 L169.49 376.75 L171.03 374.73 L172.58 372.7 L174.14 370.68 L175.72 368.66 L177.31 366.63 L178.92 364.61 L180.55 362.59 L182.19 360.56 L183.85 358.54 L185.53 356.52 L187.23 354.49 L188.95 352.47 L190.7 350.45 L192.5 348.42 L194.4 346.4 L195.4 346.4 L195.27 348.42 L194.77 350.45 L194.17 352.47 L193.51 354.49 L192.79 356.52 L192.04 358.54 L191.26 360.56 L190.45 362.59 L189.61 364.61 L188.74 366.63 L187.86 368.66 L186.96 370.68 L186.03 372.7 L185.09 374.73 L184.13 376.75 L183.16 378.77 L182.16 380.8 L181.16 382.82 L180.13 384.84 L179.1 386.87 L178.04 388.89 L176.98 390.91 L175.9 392.94 L174.8 394.96 L173.69 396.98 L172.57 399.01 L171.43 401.03 L170.28 403.05 L169.12 405.08 L167.94 407.1 L166.75 409.12 L165.55 411.15 L164.33 413.17 L163.1 415.19 L161.85 417.22 L160.59 419.24 L159.31 421.26 L158.02 423.29 L156.72 425.31 L155.4 427.33 L154.07 429.36 L152.71 431.38 L151.35 433.4 L149.96 435.43 L148.56 437.45 L147.14 439.47 L145.7 441.5 L144.24 443.52 L142.76 445.54 L141.26 447.57 L139.73 449.59 L138.17 451.61 L136.59 453.64 L134.97 455.66 L133.31 457.68 L131.6 459.71 L129.84 461.73 L127.99 463.75 L126 465.78 L123.5 467.8" fill="none" stroke="#111" stroke-width="0.6" stroke-linejoin="round"/>
<path d="M123.5 467.8 L122.41 465.78 L122.49 463.75 L122.84 461.73 L123.33 459.71 L123.92 457.68 L124.59 455.66 L125.32 453.64 L126.11 451.61 L126.94 449.59 L127.82 447.57 L128.73 445.54 L129.67 443.52 L130.65 441.5 L131.65 439.47 L132.68 437.45 L133.73 435.43 L134.81 433.4 L135.91 431.38 L137.04 429.36 L138.18 427.33 L139.34 425.31 L140.52 423.29 L141.72 421.26 L142.94 419.24 L144.18 417.22 L145.43 415.19 L146.7 413.17 L147.98 411.15 L149.28 409.12 L150.6 407.1 L151.93 405.08 L153.27 403.05 L154.64 401.03 L156.01 399.01 L157.4 396.98 L158.81 394.96 L160.22 392.94 L161.66 390.91 L163.1 388.89 L164.56 386.87 L166.04 384.84 L167.52 382.82 L169.02 380.8 L170.54 378.77 L172.07 376.75 L173.61 374.73 L175.17 372.7 L176.74 370.68 L178.33 368.66 L179.93 366.63 L181.55 364.61 L183.18 362.59 L184.83 360.56 L186.5 358.54 L188.18 356.52 L189.89 354.49 L191.62 352.47 L193.39 350.45 L195.19 348.42 L197.1 346.4 L198.1 346.4 L197.96 348.42 L197.45 350.45 L196.84 352.47 L196.17 354.49 L195.44 356.52 L194.68 358.54 L193.89 360.56 L193.07 362.59 L192.22 364.61 L191.34 366.63 L190.45 368.66 L189.54 370.68 L188.6 372.7 L187.65 374.73 L186.68 376.75 L185.7 378.77 L184.69 380.8 L183.68 382.82 L182.64 384.84 L181.6 386.87 L180.53 388.89 L179.46 390.91 L178.37 392.94 L177.26 394.96 L176.14 396.98 L175.01 399.01 L173.86 401.03 L172.7 403.05 L171.53 405.08 L170.34 407.1 L169.14 409.12 L167.93 411.15 L166.7 413.17 L165.46 415.19 L164.2 417.22 L162.93 419.24 L161.64 421.26 L160.34 423.29 L159.03 425.31 L157.7 427.33 L156.36 429.36 L154.99 431.38 L153.62 433.4 L152.22 435.43 L150.81 437.45 L149.38 439.47 L147.93 441.5 L146.46 443.52 L144.97 445.54 L143.46 447.57 L141.92 449.59 L140.35 451.61 L138.76 453.64 L137.13 455.66 L135.46 457.68 L133.74 459.71 L131.97 461.73 L130.11 463.75 L128.11 465.78 L125.6 467.8" fill="none" stroke="#111" stroke-width="0.6" stroke-linejoin="round"/>
<path d="M125.6 467.8 L124.52 465.78 L124.61 463.75 L124.96 461.73 L125.46 459.71 L126.06 457.68 L126.74 455.66 L127.48 453.64 L128.28 451.61 L129.12 449.59 L130 447.57 L130.92 445.54 L131.87 443.52 L132.86 441.5 L133.87 439.47 L134.9 437.45 L135.97 435.43 L137.05 433.4 L138.16 431.38 L139.29 429.36 L140.44 427.33 L141.62 425.31 L142.81 423.29 L144.01 421.26 L145.24 419.24 L146.48 417.22 L147.74 415.19 L149.02 413.17 L150.31 411.15 L151.62 409.12 L152.95 407.1 L154.29 405.08 L155.64 403.05 L157.01 401.03 L158.39 399.01 L159.79 396.98 L161.21 394.96 L162.63 392.94 L164.07 390.91 L165.53 388.89 L166.99 386.87 L168.48 384.84 L169.97 382.82 L171.48 380.8 L173.01 378.77 L174.54 376.75 L176.1 374.73 L177.66 372.7 L179.24 370.68 L180.84 368.66 L182.45 366.63 L184.07 364.61 L185.71 362.59 L187.37 360.56 L189.05 358.54 L190.74 356.52 L192.46 354.49 L194.2 352.47 L195.97 350.45 L197.78 348.42 L199.7 346.4 L200.7 346.4 L200.55 348.42 L200.03 350.45 L199.41 352.47 L198.73 354.49 L197.99 356.52 L197.22 358.54 L196.42 360.56 L195.59 362.59 L194.73 364.61 L193.84 366.63 L192.94 368.66 L192.02 370.68 L191.07 372.7 L190.11 374.73 L189.13 376.75 L188.14 378.77 L187.12 380.8 L186.1 382.82 L185.05 384.84 L184 386.87 L182.92 388.89 L181.84 390.91 L180.74 392.94 L179.62 394.96 L178.49 396.98 L177.35 399.01 L176.19 401.03 L175.02 403.05 L173.84 405.08 L172.64 407.1 L171.43 409.12 L170.21 411.15 L168.97 413.17 L167.72 415.19 L166.45 417.22 L165.17 419.24 L163.87 421.26 L162.56 423.29 L161.24 425.31 L159.9 427.33 L158.55 429.36 L157.17 431.38 L155.79 433.4 L154.38 435.43 L152.96 437.45 L151.52 439.47 L150.06 441.5 L148.58 443.52 L147.08 445.54 L145.56 447.57 L144.01 449.59 L142.43 451.61 L140.83 453.64 L139.19 455.66 L137.51 457.68 L135.78 459.71 L134 461.73 L132.13 463.75 L130.12 465.78 L127.6 467.8" fill="none" stroke="#111" stroke-width="0.6" stroke-linejoin="round"/>
<path d="M127.6 467.8 L126.53 465.78 L126.63 463.75 L126.99 461.73 L127.49 459.71 L128.1 457.68 L128.79 455.66 L129.54 453.64 L130.34 451.61 L131.19 449.59 L132.09 447.57 L133.01 445.54 L133.97 443.52 L134.96 441.5 L135.98 439.47 L137.03 437.45 L138.1 435.43 L139.2 433.4 L140.31 431.38 L141.45 429.36 L142.61 427.33 L143.79 425.31 L144.99 423.29 L146.21 421.26 L147.44 419.24 L148.69 417.22 L149.96 415.19 L151.25 413.17 L152.55 411.15 L153.86 409.12 L155.2 407.1 L156.55 405.08 L157.91 403.05 L159.29 401.03 L160.68 399.01 L162.08 396.98 L163.51 394.96 L164.94 392.94 L166.39 390.91 L167.85 388.89 L169.33 386.87 L170.82 384.84 L172.32 382.82 L173.84 380.8 L175.37 378.77 L176.92 376.75 L178.48 374.73 L180.05 372.7 L181.64 370.68 L183.24 368.66 L184.86 366.63 L186.5 364.61 L188.15 362.59 L189.81 360.56 L191.5 358.54 L193.2 356.52 L194.93 354.49 L196.67 352.47 L198.45 350.45 L200.27 348.42 L202.2 346.4 L203.2 346.4 L203.04 348.42 L202.51 350.45 L201.88 352.47 L201.19 354.49 L200.44 356.52 L199.66 358.54 L198.85 360.56 L198.01 362.59 L197.14 364.61 L196.24 366.63 L195.33 368.66 L194.4 370.68 L193.44 372.7 L192.47 374.73 L191.48 376.75 L190.48 378.77 L189.45 380.8 L188.42 382.82 L187.36 384.84 L186.3 386.87 L185.21 388.89 L184.12 390.91 L183.01 392.94 L181.88 394.96 L180.74 396.98 L179.59 399.01 L178.42 401.03 L177.24 403.05 L176.05 405.08 L174.84 407.1 L173.62 409.12 L172.39 411.15 L171.14 413.17 L169.88 415.19 L168.6 417.22 L167.31 419.24 L166 421.26 L164.68 423.29 L163.35 425.31 L162 427.33 L160.64 429.36 L159.25 431.38 L157.86 433.4 L156.44 435.43 L155.01 437.45 L153.56 439.47 L152.09 441.5 L150.6 443.52 L149.09 445.54 L147.56 447.57 L146 449.59 L144.41 451.61 L142.8 453.64 L141.15 455.66 L139.46 457.68 L137.72 459.71 L135.93 461.73 L134.05 463.75 L132.03 465.78 L129.5 467.8" fill="none" stroke="#111" stroke-width="0.6" stroke-linejoin="round"/>
<path d="M129.5 467.8 L128.43 465.78 L128.54 463.75 L128.91 461.73 L129.43 459.71 L130.04 457.68 L130.74 455.66 L131.5 453.64 L132.31 451.61 L133.17 449.59 L134.07 447.57 L135 445.54 L135.97 443.52 L136.97 441.5 L138 439.47 L139.05 437.45 L140.13 435.43 L141.24 433.4 L142.36 431.38 L143.51 429.36 L144.68 427.33 L145.87 425.31 L147.07 423.29 L148.3 421.26 L149.54 419.24 L150.8 417.22 L152.08 415.19 L153.37 413.17 L154.68 411.15 L156.01 409.12 L157.35 407.1 L158.7 405.08 L160.07 403.05 L161.46 401.03 L162.86 399.01 L164.28 396.98 L165.71 394.96 L167.15 392.94 L168.61 390.91 L170.08 388.89 L171.56 386.87 L173.06 384.84 L174.57 382.82 L176.1 380.8 L177.64 378.77 L179.19 376.75 L180.76 374.73 L182.34 372.7 L183.94 370.68 L185.55 368.66 L187.18 366.63 L188.82 364.61 L190.48 362.59 L192.15 360.56 L193.85 358.54 L195.56 356.52 L197.29 354.49 L199.05 352.47 L200.84 350.45 L202.67 348.42 L204.6 346.4 L205.6 346.4 L205.43 348.42 L204.89 350.45 L204.25 352.47 L203.55 354.49 L202.79 356.52 L202 358.54 L201.18 360.56 L200.33 362.59 L199.45 364.61 L198.54 366.63 L197.62 368.66 L196.68 370.68 L195.71 372.7 L194.73 374.73 L193.73 376.75 L192.72 378.77 L191.68 380.8 L190.64 382.82 L189.57 384.84 L188.5 386.87 L187.4 388.89 L186.3 390.91 L185.18 392.94 L184.04 394.96 L182.89 396.98 L181.73 399.01 L180.55 401.03 L179.36 403.05 L178.16 405.08 L176.94 407.1 L175.71 409.12 L174.47 411.15 L173.21 413.17 L171.94 415.19 L170.65 417.22 L169.35 419.24 L168.03 421.26 L166.7 423.29 L165.36 425.31 L164 427.33 L162.63 429.36 L161.23 431.38 L159.83 433.4 L158.4 435.43 L156.96 437.45 L155.5 439.47 L154.02 441.5 L152.52 443.52 L151 445.54 L149.46 447.57 L147.89 449.59 L146.29 451.61 L144.67 453.64 L143.01 455.66 L141.31 457.68 L139.56 459.71 L137.76 461.73 L135.87 463.75 L133.84 465.78 L131.3 467.8" fill="none" stroke="#111" stroke-width="0.6" stroke-linejoin="round"/>
<path d="M131.3 467.8 L130.24 465.78 L130.36 463.75 L130.74 461.73 L131.26 459.71 L131.89 457.68 L132.59 455.66 L133.36 453.64 L134.18 451.61 L135.04 449.59 L135.95 447.57 L136.9 445.54 L137.87 443.52 L138.88 441.5 L139.92 439.47 L140.98 437.45 L142.07 435.43 L143.18 433.4 L144.31 431.38 L145.47 429.36 L146.64 427.33 L147.84 425.31 L149.06 423.29 L150.29 421.26 L151.54 419.24 L152.81 417.22 L154.09 415.19 L155.4 413.17 L156.71 411.15 L158.05 409.12 L159.4 407.1 L160.76 405.08 L162.14 403.05 L163.54 401.03 L164.94 399.01 L166.37 396.98 L167.81 394.96 L169.26 392.94 L170.72 390.91 L172.2 388.89 L173.69 386.87 L175.2 384.84 L176.72 382.82 L178.26 380.8 L179.81 378.77 L181.37 376.75 L182.95 374.73 L184.54 372.7 L186.14 370.68 L187.76 368.66 L189.4 366.63 L191.05 364.61 L192.71 362.59 L194.4 360.56 L196.1 358.54 L197.82 356.52 L199.56 354.49 L201.32 352.47 L203.12 350.45 L204.96 348.42 L206.9 346.4 L207.9 346.4 L207.71 348.42 L207.16 350.45 L206.51 352.47 L205.79 354.49 L205.03 356.52 L204.22 358.54 L203.38 360.56 L202.52 362.59 L201.63 364.61 L200.71 366.63 L199.77 368.66 L198.82 370.68 L197.84 372.7 L196.84 374.73 L195.83 376.75 L194.8 378.77 L193.76 380.8 L192.7 382.82 L191.62 384.84 L190.53 386.87 L189.42 388.89 L188.3 390.91 L187.17 392.94 L186.02 394.96 L184.86 396.98 L183.68 399.01 L182.49 401.03 L181.29 403.05 L180.07 405.08 L178.84 407.1 L177.6 409.12 L176.34 411.15 L175.07 413.17 L173.78 415.19 L172.48 417.22 L171.17 419.24 L169.84 421.26 L168.5 423.29 L167.14 425.31 L165.77 427.33 L164.38 429.36 L162.97 431.38 L161.55 433.4 L160.12 435.43 L158.66 437.45 L157.19 439.47 L155.69 441.5 L154.18 443.52 L152.65 445.54 L151.09 447.57 L149.51 449.59 L147.9 451.61 L146.26 453.64 L144.59 455.66 L142.88 457.68 L141.12 459.71 L139.3 461.73 L137.4 463.75 L135.36 465.78 L132.8 467.8" fill="none" stroke="#111" stroke-width="0.6" stroke-linejoin="round"/>
<path d="M67.3 470.5 C67.88 469.37 69.35 466.45 70.8 463.7 C72.25 460.95 73.67 457.95 76 454 C78.33 450.05 81.25 444.83 84.8 440 C88.35 435.17 91.43 431.88 97.3 425 C103.17 418.12 113.68 405.37 120 398.7 C126.32 392.03 128.53 391.37 135.2 385 C141.87 378.63 153.67 366.63 160 360.5 C166.33 354.37 170.62 350.57 173.2 348.2 C175.78 345.83 175.12 346.62 175.5 346.3" fill="none" stroke="#111" stroke-width="0.6" stroke-linejoin="round"/>
<path d="M184.6 347.7 L184.39 349.75 L184.16 351.79 L183.93 353.84 L183.67 355.89 L183.4 357.93 L183.12 359.98 L182.82 362.03 L182.49 364.07 L182.15 366.12 L181.79 368.17 L181.41 370.21 L181 372.26 L180.56 374.31 L180.1 376.35 L179.61 378.4 L179.1 380.45 L178.55 382.49 L177.96 384.54 L177.34 386.59 L176.69 388.63 L175.99 390.68 L175.25 392.73 L174.47 394.77 L173.63 396.82 L172.75 398.87 L171.81 400.91 L170.82 402.96 L169.77 405.01 L168.65 407.05 L167.46 409.1 L166.21 411.15 L164.87 413.19 L163.46 415.24 L161.96 417.29 L160.37 419.33 L158.68 421.38 L156.89 423.43 L155 425.47 L152.98 427.52 L150.85 429.57 L148.59 431.61 L146.19 433.66 L143.65 435.71 L140.95 437.75 L138.09 439.8 L135.05 441.85 L131.84 443.89 L128.43 445.94 L124.81 447.99 L120.98 450.03 L116.91 452.08 L112.6 454.13 L108.03 456.17 L103.18 458.22 L98.04 460.27 L92.59 462.31 L86.81 464.36 L80.68 466.41 L74.19 468.45 L67.3 470.5" fill="none" stroke="#111" stroke-width="0.6" stroke-linejoin="round"/>
<path d="M175.5 346.3 L175.29 348.3 L175.07 350.3 L174.84 352.3 L174.59 354.3 L174.33 356.3 L174.05 358.3 L173.75 360.3 L173.44 362.3 L173.11 364.3 L172.75 366.3 L172.38 368.3 L171.98 370.3 L171.56 372.3 L171.12 374.3 L170.65 376.3 L170.15 378.3 L169.62 380.3 L169.06 382.3 L168.47 384.3 L167.85 386.3 L167.19 388.3 L166.49 390.3 L165.76 392.3 L164.98 394.3 L164.16 396.3 L163.29 398.3 L162.37 400.3 L161.4 402.3 L160.38 404.3 L159.3 406.3 L158.16 408.3 L156.95 410.3 L155.68 412.3 L154.34 414.3 L152.92 416.3 L151.42 418.3 L149.85 420.3 L148.18 422.3 L146.42 424.3 L144.57 426.3 L142.61 428.3 L140.55 430.3 L138.37 432.3 L136.07 434.3 L133.65 436.3 L131.09 438.3 L128.39 440.3 L125.55 442.3 L122.55 444.3 L119.38 446.3 L116.05 448.3 L112.53 450.3 L108.81 452.3 L104.9 454.3 L100.77 456.3 L96.42 458.3 L91.83 460.3 L86.99 462.3 L81.88 464.3 L76.5 466.3" fill="none" stroke="#111" stroke-width="0.6" stroke-linejoin="round"/>
<path d="M76.5 466.3 L92 446.1 L99.7 435 L106.7 426.6 L112.5 427.2 L118.4 420.7 L135.4 395.6 L140.5 402.7 L146.6 389.4 L166 362.5 L181.5 347.3" fill="none" stroke="#111" stroke-width="0.6" stroke-linejoin="round"/>
<path d="M181.5 347.3 L181.22 349.31 L180.58 351.32 L179.84 353.33 L179.03 355.33 L178.17 357.34 L177.27 359.35 L176.34 361.36 L175.39 363.37 L174.4 365.38 L173.39 367.38 L172.36 369.39 L171.32 371.4 L170.25 373.41 L169.16 375.42 L168.06 377.43 L166.94 379.43 L165.8 381.44 L164.65 383.45 L163.48 385.46 L162.3 387.47 L161.1 389.48 L159.89 391.48 L158.66 393.49 L157.42 395.5 L156.17 397.51 L154.9 399.52 L153.62 401.52 L152.32 403.53 L151.02 405.54 L149.69 407.55 L148.36 409.56 L147.01 411.57 L145.64 413.58 L144.27 415.58 L142.87 417.59 L141.47 419.6 L140.05 421.61 L138.61 423.62 L137.17 425.62 L135.7 427.63 L134.22 429.64 L132.72 431.65 L131.21 433.66 L129.68 435.67 L128.14 437.68 L126.57 439.68 L124.99 441.69 L123.38 443.7 L121.76 445.71 L120.11 447.72 L118.43 449.73 L116.73 451.73 L115 453.74 L113.24 455.75 L111.43 457.76 L109.58 459.77 L107.67 461.77 L105.68 463.78 L103.55 465.79 L100.9 467.8" fill="none" stroke="#111" stroke-width="0.6" stroke-linejoin="round"/>
<path d="M220.3 473.8 L220.25 472.76 L220.24 471.72 L220.26 470.67 L220.33 469.63 L220.46 468.59 L220.64 467.55 L220.89 466.5 L221.17 465.46 L221.47 464.42 L221.79 463.38 L222.15 462.33 L222.56 461.29 L223.02 460.25 L223.53 459.2 L224.05 458.16 L224.57 457.12 L225.1 456.08 L225.63 455.04 L226.17 453.99 L226.71 452.95 L227.26 451.91 L227.82 450.87 L228.39 449.82 L228.96 448.78 L229.54 447.74 L230.12 446.69 L230.7 445.65 L231.28 444.61 L231.87 443.57 L232.46 442.52 L233.04 441.48 L233.63 440.44 L234.22 439.4 L234.81 438.36 L235.4 437.31 L235.99 436.27 L236.58 435.23 L237.18 434.19 L237.77 433.14 L238.37 432.1 L238.97 431.06 L239.58 430.01 L240.18 428.97 L240.79 427.93 L241.41 426.89 L242.02 425.85 L242.64 424.8 L243.25 423.76 L243.87 422.72 L244.5 421.68 L245.12 420.63 L245.75 419.59 L246.4 418.55 L247.06 417.5 L247.73 416.46 L248.42 415.42 L249.11 414.38 L249.82 413.33 L250.53 412.29 L251.24 411.25 L251.96 410.21 L252.67 409.16 L253.39 408.12 L254.09 407.08 L254.8 406.04 L255.49 405 L256.17 403.95 L256.85 402.91 L257.53 401.87 L258.2 400.82 L258.88 399.78 L259.56 398.74 L260.24 397.7 L260.91 396.65 L261.58 395.61 L262.25 394.57 L262.92 393.53 L263.58 392.49 L264.23 391.44 L264.88 390.4 L265.53 389.36 L266.16 388.31 L266.79 387.27 L267.41 386.23 L268.02 385.19 L268.63 384.14 L269.24 383.1 L269.84 382.06 L270.44 381.02 L271.04 379.98 L271.64 378.93 L272.24 377.89 L272.83 376.85 L273.43 375.81 L274.03 374.76 L274.62 373.72 L275.22 372.68 L275.82 371.63 L276.42 370.59 L277.03 369.55 L277.63 368.51 L278.24 367.46 L278.85 366.42 L279.46 365.38 L280.06 364.34 L280.68 363.3 L281.29 362.25 L281.9 361.21 L282.52 360.17 L283.13 359.12 L283.75 358.08 L284.38 357.04 L285 356 L285.63 354.95 L286.27 353.91 L286.92 352.87 L287.59 351.83 L288.25 350.78 L288.93 349.74 L289.6 348.7 L289.7 349.74 L289.78 350.78 L289.82 351.83 L289.84 352.87 L289.82 353.91 L289.77 354.95 L289.67 356 L289.53 357.04 L289.37 358.08 L289.2 359.12 L289 360.17 L288.78 361.21 L288.54 362.25 L288.27 363.3 L287.98 364.34 L287.66 365.38 L287.33 366.42 L286.99 367.46 L286.64 368.51 L286.27 369.55 L285.88 370.59 L285.48 371.63 L285.07 372.68 L284.64 373.72 L284.2 374.76 L283.74 375.81 L283.28 376.85 L282.82 377.89 L282.34 378.93 L281.86 379.98 L281.38 381.02 L280.89 382.06 L280.39 383.1 L279.9 384.14 L279.4 385.19 L278.91 386.23 L278.42 387.27 L277.92 388.31 L277.43 389.36 L276.93 390.4 L276.43 391.44 L275.92 392.49 L275.41 393.53 L274.88 394.57 L274.35 395.61 L273.81 396.65 L273.25 397.7 L272.68 398.74 L272.1 399.78 L271.52 400.82 L270.94 401.87 L270.35 402.91 L269.76 403.95 L269.17 405 L268.58 406.04 L267.99 407.08 L267.39 408.12 L266.8 409.17 L266.2 410.21 L265.6 411.25 L265 412.29 L264.4 413.34 L263.8 414.38 L263.19 415.42 L262.56 416.46 L261.93 417.5 L261.28 418.55 L260.63 419.59 L259.98 420.63 L259.31 421.68 L258.65 422.72 L257.98 423.76 L257.31 424.8 L256.63 425.85 L255.96 426.89 L255.29 427.93 L254.62 428.97 L253.96 430.01 L253.29 431.06 L252.63 432.1 L251.96 433.14 L251.3 434.19 L250.63 435.23 L249.97 436.27 L249.3 437.31 L248.63 438.36 L247.95 439.4 L247.27 440.44 L246.59 441.48 L245.9 442.52 L245.21 443.57 L244.52 444.61 L243.82 445.65 L243.11 446.69 L242.4 447.74 L241.68 448.78 L240.95 449.82 L240.22 450.87 L239.48 451.91 L238.73 452.95 L237.98 453.99 L237.23 455.04 L236.46 456.08 L235.7 457.12 L234.93 458.16 L234.15 459.2 L233.37 460.25 L232.59 461.29 L231.82 462.33 L231.04 463.38 L230.26 464.42 L229.45 465.46 L228.62 466.5 L227.75 467.55 L226.84 468.59 L225.88 469.63 L224.81 470.67 L223.45 471.72 L221.91 472.76 L220.3 473.8Z" fill="none" stroke="#000" stroke-width="1.45" stroke-linejoin="round"/>
<path d="M164.1 473 L164.08 471.99 L164.09 470.97 L164.12 469.96 L164.19 468.94 L164.31 467.93 L164.47 466.92 L164.69 465.9 L164.97 464.89 L165.32 463.87 L165.68 462.86 L166.06 461.84 L166.45 460.83 L166.86 459.82 L167.29 458.8 L167.74 457.79 L168.22 456.77 L168.71 455.76 L169.22 454.75 L169.75 453.73 L170.28 452.72 L170.82 451.7 L171.36 450.69 L171.9 449.67 L172.45 448.66 L173 447.65 L173.56 446.63 L174.13 445.62 L174.7 444.6 L175.28 443.59 L175.88 442.57 L176.47 441.56 L177.07 440.55 L177.67 439.53 L178.26 438.52 L178.86 437.5 L179.46 436.49 L180.06 435.48 L180.66 434.46 L181.27 433.45 L181.87 432.43 L182.47 431.42 L183.07 430.41 L183.68 429.39 L184.28 428.38 L184.88 427.36 L185.49 426.35 L186.09 425.33 L186.7 424.32 L187.31 423.31 L187.92 422.29 L188.54 421.28 L189.16 420.26 L189.79 419.25 L190.42 418.24 L191.05 417.22 L191.69 416.21 L192.32 415.19 L192.97 414.18 L193.61 413.16 L194.25 412.15 L194.9 411.14 L195.54 410.12 L196.19 409.11 L196.83 408.09 L197.48 407.08 L198.12 406.06 L198.77 405.05 L199.42 404.04 L200.07 403.02 L200.72 402.01 L201.38 400.99 L202.03 399.98 L202.69 398.97 L203.35 397.95 L204.01 396.94 L204.68 395.92 L205.34 394.91 L206.01 393.89 L206.68 392.88 L207.35 391.87 L208.02 390.85 L208.69 389.84 L209.36 388.82 L210.04 387.81 L210.73 386.8 L211.41 385.78 L212.1 384.77 L212.79 383.75 L213.48 382.74 L214.17 381.73 L214.87 380.71 L215.57 379.7 L216.26 378.68 L216.96 377.67 L217.66 376.65 L218.36 375.64 L219.05 374.63 L219.75 373.61 L220.45 372.6 L221.14 371.58 L221.84 370.57 L222.53 369.56 L223.23 368.54 L223.92 367.53 L224.62 366.51 L225.32 365.5 L226.02 364.48 L226.72 363.47 L227.43 362.46 L228.14 361.44 L228.86 360.43 L229.59 359.41 L230.32 358.4 L231.05 357.38 L231.8 356.37 L232.55 355.36 L233.31 354.34 L234.07 353.33 L234.83 352.31 L235.6 351.3 L235.55 352.31 L235.5 353.33 L235.43 354.34 L235.36 355.36 L235.27 356.37 L235.17 357.38 L235.06 358.4 L234.95 359.41 L234.82 360.43 L234.7 361.44 L234.58 362.46 L234.46 363.47 L234.32 364.48 L234.15 365.5 L233.95 366.51 L233.72 367.53 L233.43 368.54 L233.12 369.56 L232.8 370.57 L232.47 371.58 L232.13 372.6 L231.77 373.61 L231.38 374.63 L230.97 375.64 L230.53 376.65 L230.07 377.67 L229.57 378.68 L229.06 379.7 L228.55 380.71 L228.03 381.73 L227.5 382.74 L226.97 383.75 L226.42 384.77 L225.87 385.78 L225.32 386.8 L224.75 387.81 L224.18 388.82 L223.61 389.84 L223.04 390.85 L222.47 391.87 L221.89 392.88 L221.32 393.89 L220.74 394.91 L220.16 395.92 L219.57 396.94 L218.98 397.95 L218.39 398.97 L217.8 399.98 L217.2 400.99 L216.61 402.01 L216.01 403.02 L215.41 404.04 L214.81 405.05 L214.21 406.06 L213.6 407.08 L213 408.09 L212.4 409.11 L211.79 410.12 L211.18 411.14 L210.58 412.15 L209.97 413.16 L209.36 414.18 L208.75 415.19 L208.13 416.21 L207.51 417.22 L206.87 418.24 L206.23 419.25 L205.58 420.26 L204.92 421.28 L204.26 422.29 L203.6 423.31 L202.94 424.32 L202.27 425.33 L201.6 426.35 L200.94 427.36 L200.27 428.38 L199.61 429.39 L198.94 430.41 L198.28 431.42 L197.61 432.43 L196.93 433.45 L196.26 434.46 L195.58 435.48 L194.9 436.49 L194.22 437.5 L193.54 438.52 L192.86 439.53 L192.17 440.55 L191.49 441.56 L190.8 442.57 L190.11 443.59 L189.42 444.6 L188.73 445.62 L188.05 446.63 L187.37 447.65 L186.69 448.66 L186.01 449.67 L185.34 450.69 L184.66 451.7 L183.97 452.72 L183.29 453.73 L182.6 454.75 L181.9 455.76 L181.19 456.77 L180.48 457.79 L179.75 458.8 L179.01 459.82 L178.26 460.83 L177.49 461.84 L176.7 462.86 L175.86 463.87 L174.96 464.89 L174.01 465.9 L173 466.92 L171.92 467.93 L170.78 468.94 L169.57 469.96 L168.08 470.97 L166.17 471.99 L164.1 473Z" fill="none" stroke="#000" stroke-width="2.25" stroke-linejoin="round"/>
</svg></body></html>
